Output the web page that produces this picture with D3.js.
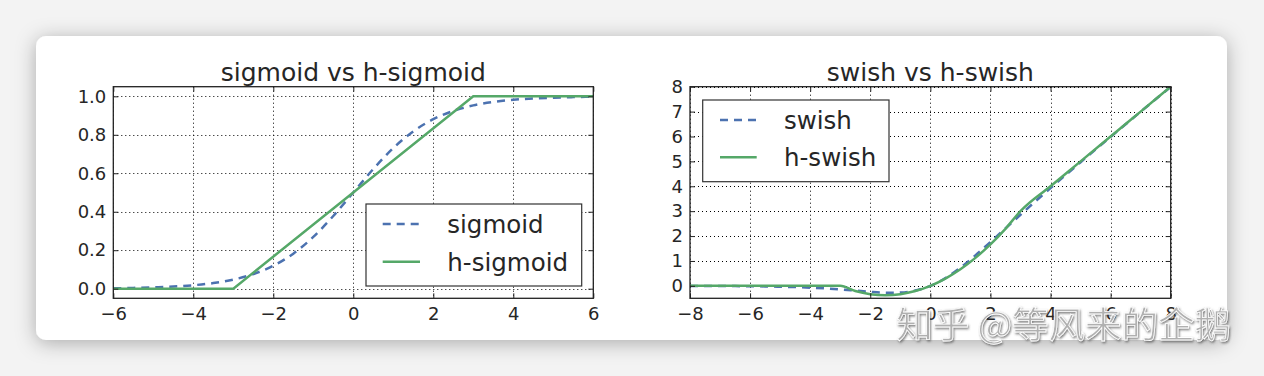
<!DOCTYPE html>
<html>
<head>
<meta charset="utf-8">
<script src="https://cdn.jsdelivr.net/npm/d3@7"></script>
<style>
  html, body { margin: 0; padding: 0; background: #f3f3f3; }
  svg { display: block; }
  text { font-family: "DejaVu Sans", sans-serif; }
</style>
</head>
<body>
<svg id="chart" width="1264" height="376"></svg>
<script>
// ---------------- data ----------------
const sigmoidX = [-6,-5.5,-5,-4.5,-4,-3.5,-3,-2.5,-2,-1.5,-1,-0.5,0,0.5,1,1.5,2,2.5,3,3.5,4,4.5,5,5.5,6];
const sigmoidY = [0.002,0.004,0.007,0.011,0.018,0.029,0.047,0.076,0.119,0.182,0.269,0.378,0.5,0.622,0.731,0.818,0.881,0.924,0.953,0.971,0.982,0.989,0.993,0.996,0.998];
const hSigmoidX = [-6,-3,3,6];
const hSigmoidY = [0,0,1,1];

const swishX = [-8,-7.5,-7,-6.5,-6,-5.5,-5,-4.5,-4,-3.5,-3,-2.5,-2,-1.5,-1.25,-1,-0.5,0,0.5,1,1.5,2,2.5,3,3.5,4,4.5,5,5.5,6,6.5,7,7.5,8];
const swishY = [-0.003,-0.004,-0.006,-0.010,-0.015,-0.022,-0.034,-0.049,-0.072,-0.103,-0.142,-0.190,-0.238,-0.274,-0.278,-0.269,-0.189,0,0.311,0.731,1.226,1.762,2.310,2.858,3.397,3.928,4.451,4.967,5.478,5.985,6.490,6.994,7.496,7.997];
const hSwishX = [-8,-7,-6,-5,-4,-3,-2.5,-2,-1.5,-1,-0.5,0,0.5,1,1.5,2,2.5,3,4,5,6,7,8];
const hSwishY = [0,0,0,0,0,0,-0.208,-0.333,-0.375,-0.333,-0.208,0,0.292,0.667,1.125,1.667,2.292,3,4,5,6,7,8];

const leftXTicks = [-6,-4,-2,0,2,4,6];
const leftYTicks = [0.0,0.2,0.4,0.6,0.8,1.0];
const rightXTicks = [-8,-6,-4,-2,0,2,4,6,8];
const rightYTicks = [0,1,2,3,4,5,6,7,8];

const titles = ["sigmoid vs h-sigmoid", "swish vs h-swish"];
const leftSeries = ["sigmoid", "h-sigmoid"];
const rightSeries = ["swish", "h-swish"];

// ---------------- style ----------------
const BLUE = "#4c72b0", GREEN = "#55a868", INK = "#262626";

const svg = d3.select("#chart");
const defs = svg.append("defs");
const sh = defs.append("filter").attr("id","shadow").attr("x","-10%").attr("y","-20%").attr("width","120%").attr("height","150%");
sh.append("feDropShadow").attr("dx",0).attr("dy",3).attr("stdDeviation",10).attr("flood-color","#000").attr("flood-opacity",0.3);
const wsh = defs.append("filter").attr("id","wshadow");
wsh.append("feDropShadow").attr("dx",1).attr("dy",1.5).attr("stdDeviation",1).attr("flood-color","#444").attr("flood-opacity",0.7);

// card
svg.append("rect").attr("x",36).attr("y",36).attr("width",1191).attr("height",304)
  .attr("rx",10).attr("fill","#fff").attr("filter","url(#shadow)");

function panel(cfg) {
  const g = svg.append("g");
  const x = d3.scaleLinear().domain(cfg.xDomain).range([cfg.left, cfg.right]);
  const y = d3.scaleLinear().domain(cfg.yDomain).range([cfg.bottom, cfg.top]);
  const clipId = "clip" + cfg.id;
  defs.append("clipPath").attr("id", clipId).append("rect")
    .attr("x", cfg.left).attr("y", cfg.top).attr("width", cfg.right-cfg.left).attr("height", cfg.bottom-cfg.top);

  // grid
  const grid = g.append("g").attr("stroke","#000").attr("stroke-width",1).attr("stroke-dasharray","1,3");
  grid.selectAll(".gx").data(cfg.xTicks).join("line")
    .attr("x1", d=>Math.round(x(d))+0.5).attr("x2", d=>Math.round(x(d))+0.5)
    .attr("y1", cfg.top).attr("y2", cfg.bottom);
  grid.selectAll(".gy").data(cfg.yTicks).join("line")
    .attr("y1", d=>Math.round(y(d))+0.5).attr("y2", d=>Math.round(y(d))+0.5)
    .attr("x1", cfg.left).attr("x2", cfg.right);

  // lines
  const lg = g.append("g").attr("clip-path", `url(#${clipId})`);
  cfg.series.forEach(s => {
    const pts = s.xs.map((v,i)=>[v, s.ys[i]]);
    const line = d3.line().x(d=>x(d[0])).y(d=>y(d[1])).curve(s.curve);
    lg.append("path").attr("d", line(pts)).attr("fill","none")
      .attr("stroke", s.color).attr("stroke-width", 2.5)
      .attr("stroke-dasharray", s.dash || null);
  });

  // axes with inward ticks
  const axB = d3.axisBottom(x).tickValues(cfg.xTicks).tickSizeInner(-5).tickSizeOuter(0).tickPadding(9)
    .tickFormat(d3.format(cfg.xFmt));
  const axT = d3.axisTop(x).tickValues(cfg.xTicks).tickSizeInner(-5).tickSizeOuter(0).tickFormat("");
  const axL = d3.axisLeft(y).tickValues(cfg.yTicks).tickSizeInner(-5).tickSizeOuter(0).tickPadding(7)
    .tickFormat(d3.format(cfg.yFmt));
  const axR = d3.axisRight(y).tickValues(cfg.yTicks).tickSizeInner(-5).tickSizeOuter(0).tickFormat("");
  const styleAx = sel => {
    sel.attr("font-size", null).attr("font-family", null);
    sel.select(".domain").remove();
    sel.selectAll("line").attr("stroke", "#222").attr("stroke-width", 1);
    sel.selectAll("text").attr("fill", INK).style("font-size","18px").style("font-family","DejaVu Sans");
  };
  g.append("g").attr("transform",`translate(0,${cfg.bottom})`).call(axB).call(styleAx);
  g.append("g").attr("transform",`translate(0,${cfg.top})`).call(axT).call(styleAx);
  g.append("g").attr("transform",`translate(${cfg.left},0)`).call(axL).call(styleAx);
  g.append("g").attr("transform",`translate(${cfg.right},0)`).call(axR).call(styleAx);

  // frame
  g.append("rect").attr("x", cfg.left).attr("y", cfg.top)
    .attr("width", cfg.right-cfg.left).attr("height", cfg.bottom-cfg.top)
    .attr("fill","none").attr("stroke","#222").attr("stroke-width",1.3);

  // title
  g.append("text").attr("x", (cfg.left+cfg.right)/2).attr("y", cfg.top-6)
    .attr("text-anchor","middle").attr("fill", INK).style("font-size","25px").text(cfg.title);

  // legend
  const L = cfg.legend;
  const lgd = g.append("g");
  lgd.append("rect").attr("x", L.x0).attr("y", L.y0).attr("width", L.x1-L.x0).attr("height", L.y1-L.y0)
    .attr("fill","#fff").attr("stroke","#333").attr("stroke-width",1.2);
  cfg.series.forEach((s,i) => {
    const cy = L.rows[i];
    lgd.append("line").attr("x1", L.lx0).attr("x2", L.lx1).attr("y1", cy).attr("y2", cy)
      .attr("stroke", s.color).attr("stroke-width", 2.5).attr("stroke-dasharray", s.dash || null);
    lgd.append("text").attr("x", L.tx).attr("y", cy + 9).attr("fill", INK)
      .style("font-size","24.5px").text(s.name);
  });
}

panel({
  id: "L", left: 113.3, right: 593.3, top: 86.7, bottom: 298.3,
  xDomain: [-6, 6], yDomain: [-0.05, 1.05],
  xTicks: leftXTicks, yTicks: leftYTicks, xFmt: "d", yFmt: ".1f",
  title: titles[0],
  series: [
    {name: leftSeries[0], xs: sigmoidX, ys: sigmoidY, color: BLUE, dash: "8,6", curve: d3.curveMonotoneX},
    {name: leftSeries[1], xs: hSigmoidX, ys: hSigmoidY, color: GREEN, curve: d3.curveLinear}
  ],
  legend: {x0: 366, x1: 581.7, y0: 204, y1: 286, rows: [224, 261.7], lx0: 382.7, lx1: 420, tx: 447.3}
});

panel({
  id: "R", left: 690, right: 1170.7, top: 86.7, bottom: 298.3,
  xDomain: [-8, 8], yDomain: [-0.5, 8],
  xTicks: rightXTicks, yTicks: rightYTicks, xFmt: "d", yFmt: "d",
  title: titles[1],
  series: [
    {name: rightSeries[0], xs: swishX, ys: swishY, color: BLUE, dash: "8,6", curve: d3.curveMonotoneX},
    {name: rightSeries[1], xs: hSwishX, ys: hSwishY, color: GREEN, curve: d3.curveMonotoneX}
  ],
  legend: {x0: 702.7, x1: 889, y0: 100, y1: 181.7, rows: [120, 157.3], lx0: 720, lx1: 756.7, tx: 784}
});

// watermark
svg.append("text").attr("x", 1231).attr("y", 338).attr("text-anchor","end")
  .style("font-family","'Noto Sans CJK SC', sans-serif").style("font-size","36.5px")
  .attr("fill","#b0b0b0").attr("stroke","#fff").attr("stroke-width",0.8)
  .attr("filter","url(#wshadow)").text("知乎 @等风来的企鹅");
</script>
</body>
</html>
